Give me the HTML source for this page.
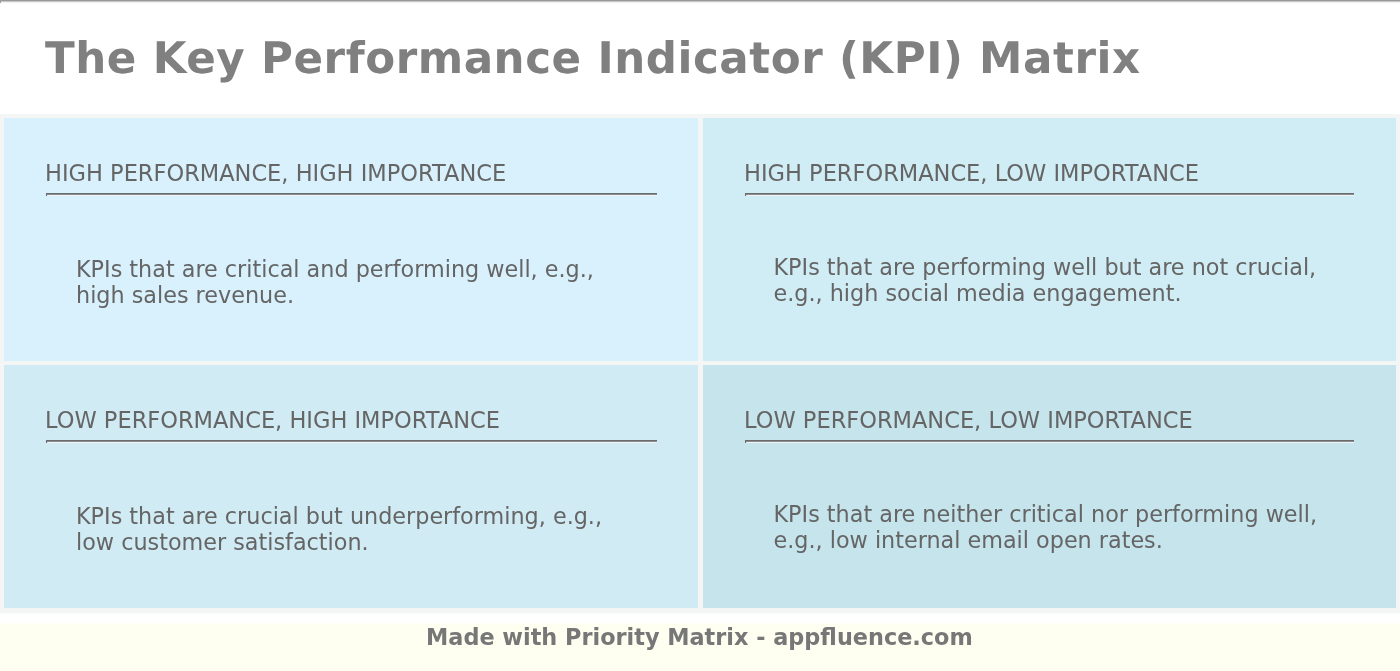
<!DOCTYPE html>
<html><head><meta charset="utf-8">
<style>
html,body{margin:0;padding:0;width:1400px;height:671px;overflow:hidden;background:#fff;}
body{font-family:"DejaVu Sans","Liberation Sans",sans-serif;position:relative;}
.a{position:absolute;white-space:nowrap;margin:0;}
.topline{left:0;top:0;width:1400px;height:1px;background:#999;}
.topline2{left:0;top:1px;width:1400px;height:1px;background:#c6c6c6;}
.topline3{left:0;top:2px;width:1400px;height:1px;background:#f2f2f2;}
.topline4{left:0;top:3px;width:1400px;height:1px;background:#fcfcfc;}
.tl{left:0;top:1px;width:1px;height:2px;background:#a0a0a0;}
h1.a{left:45px;top:34px;font-size:43.6px;letter-spacing:0.54px;text-rendering:geometricPrecision;font-weight:bold;color:#808080;line-height:50px;}
.grid{left:0;top:114px;width:1400px;height:499px;background:#f4f6f6;}
.c1{left:4px;top:118px;width:694px;height:243px;background:#d8f1fd;}
.c2{left:703px;top:118px;width:693px;height:243px;background:#d0ecf4;}
.c3{left:4px;top:365px;width:694px;height:243px;background:#d0ebf3;}
.c4{left:703px;top:365px;width:693px;height:243px;background:#c5e4ec;}
.hd{font-size:22.5px;line-height:26px;color:#656565;}
.ul{height:1px;background:#6a6d70;border-bottom:1px solid #8d8a8a;}
.ul::before{content:"";position:absolute;left:0;top:0;width:1px;height:3px;background:#6a6d70;}
.ul::after{content:"";position:absolute;left:2px;right:0;top:2px;height:1px;background:#eef4f7;}
.tx{font-size:22.3px;line-height:26px;color:#656565;}
.footer{left:0;top:624px;width:1400px;height:47px;background:#fefff0;}
.fline{left:0;top:623px;width:1400px;height:1px;background:#fefff6;}
.gline{left:0;top:613px;width:1400px;height:1px;background:#fafbfb;}
.ft{left:-0.6px;width:1400px;text-align:center;top:623.65px;font-size:22.36px;line-height:26px;font-weight:bold;color:#777;}
</style></head><body>
<div class="a topline"></div>
<div class="a topline2"></div><div class="a topline3"></div><div class="a topline4"></div><div class="a tl"></div>
<h1 class="a">The Key Performance Indicator (KPI) Matrix</h1>
<div class="a grid"></div>
<div class="a c1"></div><div class="a c2"></div><div class="a c3"></div><div class="a c4"></div>

<div class="a hd" style="left:45px;top:159.75px">HIGH PERFORMANCE, HIGH IMPORTANCE</div>
<div class="a ul" style="left:46px;top:193px;width:611px"></div>
<div class="a tx" style="left:76px;top:255.85px">KPIs that are critical and performing well, e.g.,<br>high sales revenue.</div>

<div class="a hd" style="left:744px;top:159.75px">HIGH PERFORMANCE, LOW IMPORTANCE</div>
<div class="a ul" style="left:745px;top:193px;width:609px"></div>
<div class="a tx" style="left:773.5px;top:253.95px">KPIs that are performing well but are not crucial,<br>e.g., high social media engagement.</div>

<div class="a hd" style="left:45px;top:406.75px">LOW PERFORMANCE, HIGH IMPORTANCE</div>
<div class="a ul" style="left:46px;top:440px;width:611px"></div>
<div class="a tx" style="left:76px;top:503.05px">KPIs that are crucial but underperforming, e.g.,<br>low customer satisfaction.</div>

<div class="a hd" style="left:744px;top:406.75px">LOW PERFORMANCE, LOW IMPORTANCE</div>
<div class="a ul" style="left:745px;top:440px;width:609px"></div>
<div class="a tx" style="left:773.5px;top:501.25px">KPIs that are neither critical nor performing well,<br>e.g., low internal email open rates.</div>

<div class="a gline"></div><div class="a fline"></div><div class="a footer"></div>
<div class="a ft">Made with Priority Matrix - appfluence.com</div>
</body></html>
